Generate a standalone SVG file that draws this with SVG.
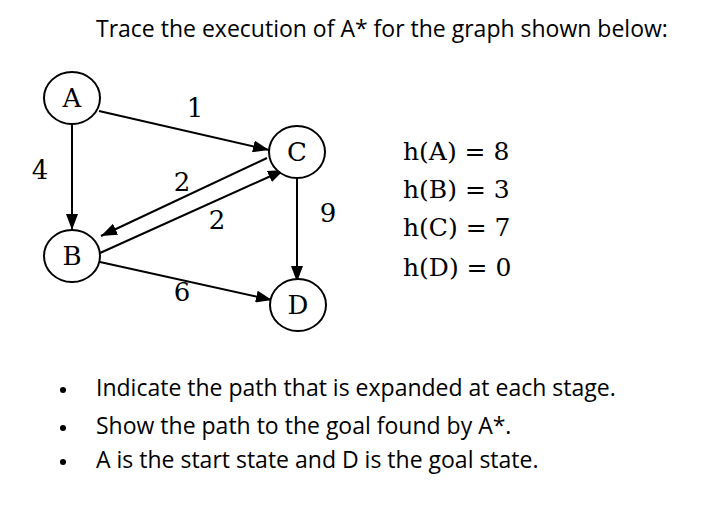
<svg xmlns="http://www.w3.org/2000/svg" width="714" height="517" viewBox="0 0 714 517">
<style>
.n{fill:#fff;stroke:#000;stroke-width:2}
.l{font-family:"DejaVu Serif",serif;font-size:26px;text-anchor:middle}
.e{stroke:#000;stroke-width:2;fill:none;marker-end:url(#ah)}
.t{font-family:"Open Sans","Liberation Sans",sans-serif;font-size:23px;font-weight:500}
.h{font-family:"DejaVu Serif",serif;font-size:25px}
</style>
<defs><marker id="ah" viewBox="0 0 10 10" refX="10" refY="5" markerWidth="16" markerHeight="12" orient="auto" markerUnits="userSpaceOnUse" preserveAspectRatio="none"><path d="M0,0L10,5L0,10z"/></marker></defs>
<rect width="714" height="517" fill="#fff"/>
<text class="t" x="96" y="37">Trace the execution of A* for the graph shown below:</text>
<g id="edges">
<line class="e" x1="99" y1="111" x2="269" y2="150"/>
<line class="e" x1="72" y1="124" x2="72" y2="230"/>
<line class="e" x1="267" y1="158" x2="101" y2="236"/>
<line class="e" x1="100" y1="253" x2="284" y2="170"/>
<line class="e" x1="297" y1="178" x2="297" y2="282"/>
<line class="e" x1="100" y1="262" x2="272" y2="300"/>
<g class="l"><text x="195" y="117">1</text><text x="40" y="179">4</text><text x="182" y="191">2</text><text x="217" y="229">2</text><text x="328" y="222">9</text><text x="182" y="301">6</text></g>
</g>
<g id="A"><ellipse class="n" cx="72" cy="98" rx="28" ry="26"/><text class="l" x="72" y="107">A</text></g>
<g id="B"><ellipse class="n" cx="72" cy="256" rx="28" ry="26"/><text class="l" x="72" y="265">B</text></g>
<g id="C"><ellipse class="n" cx="297" cy="152" rx="28" ry="26"/><text class="l" x="297" y="161">C</text></g>
<g id="D"><ellipse class="n" cx="298" cy="305" rx="28" ry="26"/><text class="l" x="298" y="314">D</text></g>
<g class="h"><text x="403" y="160">h(A) = 8</text><text x="403" y="198">h(B) = 3</text><text x="403" y="236">h(C) = 7</text><text x="403" y="276">h(D) = 0</text></g>
<g class="t">
<circle cx="63" cy="390" r="3"/><text x="96" y="396">Indicate the path that is expanded at each stage.</text>
<circle cx="63" cy="428" r="3"/><text x="96" y="434">Show the path to the goal found by A*.</text>
<circle cx="63" cy="462" r="3"/><text x="96" y="468">A is the start state and D is the goal state.</text>
</g>
</svg>
